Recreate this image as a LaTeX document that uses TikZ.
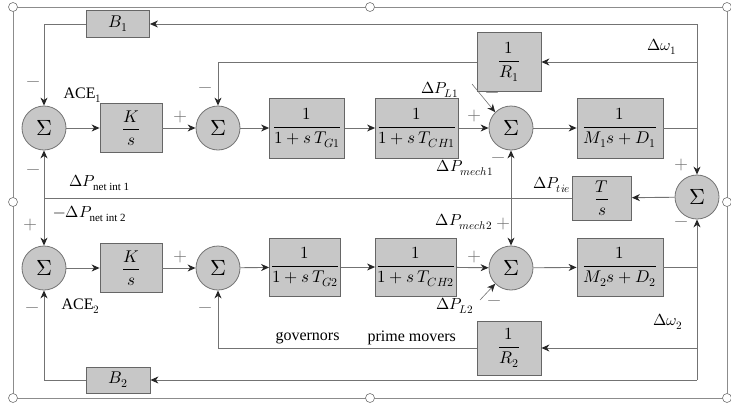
\documentclass[tikz,border=0pt]{standalone}
\usepackage{fontspec}
\setmainfont{Liberation Serif}
\usepackage{unicode-math}
\setmathfont{Latin Modern Math}
\usetikzlibrary{arrows.meta}
\begin{document}
\begin{tikzpicture}[x=1pt,y=-1pt,
  font=\fontsize{16}{18}\selectfont,
  ln/.style={draw=black!55,line width=0.9pt},
  ar/.style={ln,-{Stealth[length=8pt,width=7pt,inset=2.5pt,black!85]}},
  sum/.style={circle,draw=black!55,fill=black!22,line width=0.8pt,minimum size=44pt,inner sep=0pt,font=\fontsize{22}{22}\selectfont},
  blk/.style={rectangle,draw=black!60,fill=black!22,line width=0.8pt,inner sep=0pt,font=\fontsize{17}{19}\selectfont},
  sg/.style={text=black!55,font=\fontsize{18}{18}\selectfont,inner sep=0pt}]
\useasboundingbox (0,0) rectangle (731,402);
% selection frame
\draw[black!45,line width=0.6pt] (13,7) rectangle (727,398);
\foreach \p in {(13,7),(370,7),(727,7),(13,202),(727,202),(13,398),(370,398),(727,398)}
  \draw[black!55,fill=white,line width=0.6pt] \p circle (4.5pt);
% top row
\node[sum] (s1) at (44,128) {$\Sigma$};
\node[blk,minimum width=62pt,minimum height=49pt] (k1) at (131,128) {$\dfrac{K}{s}$};
\node[sum] (s2) at (218,128) {$\Sigma$};
\node[blk,minimum width=75pt,minimum height=60pt] (g1) at (307,128) {$\dfrac{1}{1+s\,T_{G1}}$};
\node[blk,minimum width=83pt,minimum height=60pt] (c1) at (417,128) {$\dfrac{1}{1+s\,T_{CH1}}$};
\node[sum] (s3) at (511,128) {$\Sigma$};
\node[blk,minimum width=86pt,minimum height=60pt] (m1) at (620,128) {$\dfrac{1}{M_1s+D_1}$};
\node[blk,minimum width=63pt,minimum height=27pt] (b1) at (118,24) {$B_1$};
\node[blk,minimum width=64pt,minimum height=59pt] (r1) at (509,62) {$\dfrac{1}{R_1}$};
% middle
\node[sum] (sr) at (697,197) {$\Sigma$};
\node[blk,minimum width=59pt,minimum height=44pt] (ts) at (602,198) {$\dfrac{T}{s}$};
% bottom row
\node[sum] (s4) at (44,268) {$\Sigma$};
\node[blk,minimum width=62pt,minimum height=49pt] (k2) at (131,268) {$\dfrac{K}{s}$};
\node[sum] (s5) at (218,268) {$\Sigma$};
\node[blk,minimum width=71pt,minimum height=58pt] (g2) at (305,267) {$\dfrac{1}{1+s\,T_{G2}}$};
\node[blk,minimum width=81pt,minimum height=58pt] (c2) at (416,267) {$\dfrac{1}{1+s\,T_{CH2}}$};
\node[sum] (s6) at (511,268) {$\Sigma$};
\node[blk,minimum width=86pt,minimum height=58pt] (m2) at (620,267) {$\dfrac{1}{M_2s+D_2}$};
\node[blk,minimum width=64pt,minimum height=54pt] (r2) at (509,348) {$\dfrac{1}{R_2}$};
\node[blk,minimum width=64pt,minimum height=26pt] (b2) at (118,380) {$B_2$};
% junction coordinates
\coordinate (jt) at (697,24);
\coordinate (jb) at (697,380);
\coordinate (tl) at (44,198);
% forward paths
\draw[ar] (s1) -- (k1); \draw[ar] (k1) -- (s2); \draw[ar] (s2) -- (g1);
\draw[ar] (g1) -- (c1); \draw[ar] (c1) -- (s3); \draw[ar] (s3) -- (m1);
\draw[ar] (s4) -- (k2); \draw[ar] (k2) -- (s5); \draw[ar] (s5) -- (g2);
\draw[ar] (g2) -- (c2); \draw[ar] (c2) -- (s6); \draw[ar] (s6) -- (m2);
\draw[ln] (m1.east) -- (697,128);
\draw[ln] (m2.east) -- (697,267);
% right verticals
\draw[ar] (jt) -- (sr);
\draw[ar] (jb) -- (sr);
% feedbacks
\draw[ar] (jt) -- (b1);
\draw[ar] (b1.west) -| (s1);
\draw[ar] (697,62) -- (r1);
\draw[ar] (r1.west) -| (s2);
\draw[ar] (jb) -- (b2);
\draw[ar] (b2.west) -| (s4);
\draw[ar] (697,348) -- (r2);
\draw[ar] (r2.west) -| (s5);
% tie line
\draw[ar] (sr) -- (ts);
\draw[ln] (ts.west) -- (tl);
\draw[ar] (tl) -- (s1);
\draw[ar] (tl) -- (s4);
\draw[ar] (511,198) -- (s3);
\draw[ar] (511,198) -- (s6);
% load disturbances
\coordinate (l1) at (472,84);
\coordinate (l2) at (480,300);
\draw[ar,line width=0.6pt] (l1) -- (s3.135);
\draw[ar,line width=0.6pt] (l2) -- (s6.225);
% labels
\node[anchor=west] at (60,95) {ACE$_1$};
\node[anchor=west] at (58,306) {ACE$_2$};
\node[anchor=west] at (66,183) {$\Delta P_{\text{\fontsize{11}{11}\selectfont net int 1}}$};
\node[anchor=west] at (50,214) {$-\Delta P_{\text{\fontsize{11}{11}\selectfont net int 2}}$};
\node at (440,90) {$\Delta P_{L1}$};
\node at (455,306) {$\Delta P_{L2}$};
\node at (465,168) {$\Delta P_{mech1}$};
\node at (464,222) {$\Delta P_{mech2}$};
\node at (552,185) {$\Delta P_{tie}$};
\node at (662,47) {$\Delta\omega_1$};
\node at (668,322) {$\Delta\omega_2$};
\node[anchor=west] at (272,338) {governors};
\node[anchor=west] at (364,338) {prime movers};
% signs
\node[sg] at (34,84) {$-$};
\node[sg] at (34,172) {$-$};
\node[sg] at (31,225) {$+$};
\node[sg] at (33,310) {$-$};
\node[sg] at (181,117) {$+$};
\node[sg] at (205,90) {$-$};
\node[sg] at (181,257) {$+$};
\node[sg] at (205,310) {$-$};
\node[sg] at (474,116) {$+$};
\node[sg] at (492,95) {$-$};
\node[sg] at (498,160) {$-$};
\node[sg] at (503,224) {$+$};
\node[sg] at (474,257) {$+$};
\node[sg] at (494,303) {$-$};
\node[sg] at (681,165) {$+$};
\node[sg] at (681,224) {$-$};
\end{tikzpicture}
\end{document}
